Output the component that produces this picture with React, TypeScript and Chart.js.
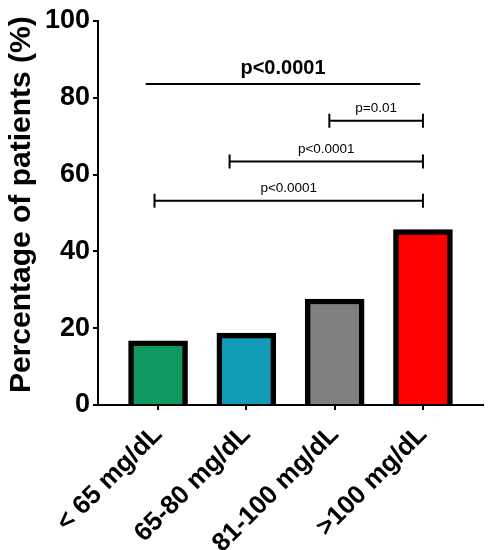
import React, { useEffect, useRef } from "react";
import { Chart, registerables } from "chart.js";

Chart.register(...registerables);

const categories = ["< 65 mg/dL", "65-80 mg/dL", "81-100 mg/dL", ">100 mg/dL"];
const percentages = [16.7, 18.7, 27.6, 45.7];
const barColors = ["#0f9960", "#129bb6", "#808080", "#ff0000"];
const yTicks = [0, 20, 40, 60, 80, 100];

const bracketLabels = ["p=0.01", "p<0.0001", "p<0.0001"];
const bracketStart = [1.94, 0.81, -0.04];
const bracketEnd = [3.0, 3.0, 3.0];
const bracketLevel = [74, 63.4, 53.2];

const overallLabel = "p<0.0001";
const overallStart = -0.14;
const overallEnd = 2.97;
const overallLevel = 83.6;

const FONT = "'Liberation Sans', Arial, Helvetica, sans-serif";

const bracketPlugin = {
  id: "brackets",
  afterDatasetsDraw(chart: any) {
    const ctx = chart.ctx;
    const xs = chart.scales.x;
    const ys = chart.scales.y;
    ctx.save();
    ctx.strokeStyle = "#000";
    ctx.fillStyle = "#000";
    ctx.lineWidth = 2;
    ctx.lineCap = "butt";
    {
      const x1 = xs.getPixelForValue(overallStart);
      const x2 = xs.getPixelForValue(overallEnd);
      const y = ys.getPixelForValue(overallLevel);
      ctx.beginPath();
      ctx.moveTo(x1, y);
      ctx.lineTo(x2, y);
      ctx.stroke();
      ctx.font = `bold 20px ${FONT}`;
      ctx.textAlign = "center";
      ctx.textBaseline = "alphabetic";
      ctx.fillText(overallLabel, (x1 + x2) / 2, y - 10);
    }
    ctx.font = `13.5px ${FONT}`;
    for (let i = 0; i < bracketLabels.length; i++) {
      const x1 = xs.getPixelForValue(bracketStart[i]);
      const x2 = xs.getPixelForValue(bracketEnd[i]);
      const y = ys.getPixelForValue(bracketLevel[i]);
      ctx.beginPath();
      ctx.moveTo(x1, y);
      ctx.lineTo(x2, y);
      ctx.moveTo(x1, y - 7);
      ctx.lineTo(x1, y + 7);
      ctx.moveTo(x2, y - 7);
      ctx.lineTo(x2, y + 7);
      ctx.stroke();
      ctx.textAlign = "center";
      ctx.textBaseline = "alphabetic";
      ctx.fillText(bracketLabels[i], (x1 + x2) / 2, y - 8.5);
    }
    ctx.restore();
  },
};

export default function App() {
  const canvasRef = useRef<HTMLCanvasElement | null>(null);

  useEffect(() => {
    const canvas = canvasRef.current;
    if (!canvas) return;
    const chart = new Chart(canvas, {
      type: "bar",
      data: {
        datasets: [
          {
            data: percentages.map((v, i) => ({ x: i, y: v })),
            backgroundColor: barColors,
            borderColor: "#000",
            borderWidth: 5.5,
            borderSkipped: "start",
            barThickness: 59,
          } as any,
        ],
      },
      options: {
        animation: false,
        responsive: false,
        devicePixelRatio: 1,
        layout: { padding: { top: 21, right: 6, left: 0, bottom: 0 } },
        plugins: {
          legend: { display: false },
          tooltip: { enabled: false },
        },
        scales: {
          x: {
            type: "linear",
            min: -0.68,
            max: 3.68,
            offset: false,
            afterBuildTicks: (scale: any) => {
              scale.ticks = categories.map((_, i) => ({ value: i }));
            },
            afterFit: (scale: any) => {
              scale.height = 145;
            },
            ticks: {
              autoSkip: false,
              minRotation: 45,
              maxRotation: 45,
              color: "#000",
              padding: 7,
              font: { family: FONT, size: 26, weight: "bold", lineHeight: 1.45 },
              callback: (v: any) => categories[v as number] ?? "",
            },
            grid: {
              display: true,
              drawOnChartArea: false,
              drawTicks: true,
              tickLength: 5,
              color: "#000",
              lineWidth: 2,
              offset: false,
            },
            border: { display: true, color: "#000", width: 2 },
          },
          y: {
            type: "linear",
            min: 0,
            max: 100,
            afterBuildTicks: (scale: any) => {
              scale.ticks = yTicks.map((v) => ({ value: v }));
            },
            afterFit: (scale: any) => {
              scale.width = 98;
            },
            ticks: {
              color: "#000",
              padding: 3,
              font: { family: FONT, size: 27, weight: "bold" },
            },
            grid: {
              display: true,
              drawOnChartArea: false,
              drawTicks: true,
              tickLength: 5,
              color: "#000",
              lineWidth: 2,
            },
            border: { display: true, color: "#000", width: 2 },
            title: {
              display: true,
              text: "  Percentage of patients (%)",
              color: "#000",
              padding: { top: 4, bottom: 4 },
              font: { family: FONT, size: 30, weight: "bold" },
            },
          },
        },
      } as any,
      plugins: [bracketPlugin],
    });
    return () => chart.destroy();
  }, []);

  return (
    <div style={{ position: "fixed", left: 0, top: 0, width: 489, height: 550, background: "#fff" }}>
      <canvas ref={canvasRef} width={489} height={550} style={{ width: 489, height: 550, display: "block" }} />
    </div>
  );
}
